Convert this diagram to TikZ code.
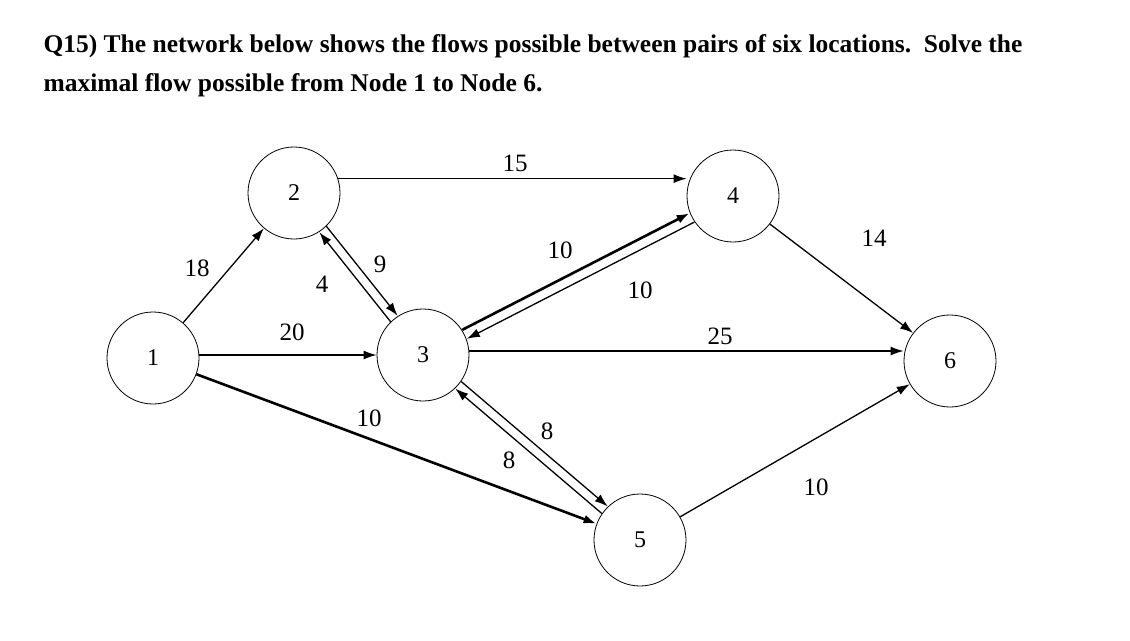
\documentclass[tikz,border=0pt]{standalone}
\usepackage{fontspec}
\setmainfont{Liberation Serif}
\usetikzlibrary{arrows.meta}
\begin{document}
\begin{tikzpicture}[x=1pt,y=-1pt,
  vtx/.style={circle,draw,line width=0.8pt,minimum size=92pt,inner sep=0pt,font=\fontsize{24}{26}\selectfont},
  edge/.style={line width=1.3pt,-{Latex[length=13pt,width=9pt]}},
  thk/.style={edge,line width=2.6pt},
  lab/.style={font=\fontsize{25}{27}\selectfont,inner sep=0pt}]
\useasboundingbox (0,0) rectangle (1130,640);
\node[anchor=west,font=\bfseries\fontsize{25.5}{27}\selectfont] (t1) at (40,46) {Q15) The network below shows the flows possible between pairs of six locations.\ \ Solve the};
\node[anchor=west,font=\bfseries\fontsize{25.5}{27}\selectfont] (t2) at (40,85) {maximal flow possible from Node 1 to Node 6.};
\node[vtx] (n1) at (153,358) {1};
\node[vtx] (n2) at (294,193) {2};
\node[vtx] (n3) at (423,355) {3};
\node[vtx] (n4) at (733,196) {4};
\node[vtx] (n5) at (640,540) {5};
\node[vtx] (n6) at (950,361) {6};
\draw[edge] (n1) -- (n2);
\draw[edge] (n2.18) -- (n2.18 -| n4.west);
\draw[edge] (n1.east |- n3) -- (n3.west);
\draw[edge,transform canvas={shift={(3.5,-3)}}] (n2) -- (n3);
\draw[edge,transform canvas={shift={(-3.5,3)}}] (n3) -- (n2);
\draw[thk,transform canvas={shift={(-2,-4)}}] (n3) -- (n4);
\draw[edge,transform canvas={shift={(2.5,5)}}] (n4) -- (n3);
\draw[edge] (n3.east |- 0,351) -- (n6.west |- 0,351);
\draw[thk] (n1) -- (n5);
\draw[edge,transform canvas={shift={(3,-3.5)}}] (n3) -- (n5);
\draw[edge,transform canvas={shift={(-3,3.5)}}] (n5) -- (n3);
\draw[edge] (n4) -- (n6);
\draw[edge] (n5) -- (n6);
\node[lab] (l12) at (197,268) {18};
\node[lab] (l24) at (515,163) {15};
\node[lab] (l13) at (292,332) {20};
\node[lab] (l23) at (380,264) {9};
\node[lab] (l32) at (322,284) {4};
\node[lab] (l34) at (560,250) {10};
\node[lab] (l43) at (640,290) {10};
\node[lab] (l36) at (720,336) {25};
\node[lab] (l15) at (369,418) {10};
\node[lab] (l35) at (547,431) {8};
\node[lab] (l53) at (509,460) {8};
\node[lab] (l46) at (874,238) {14};
\node[lab] (l56) at (816,487) {10};
\end{tikzpicture}
\end{document}
